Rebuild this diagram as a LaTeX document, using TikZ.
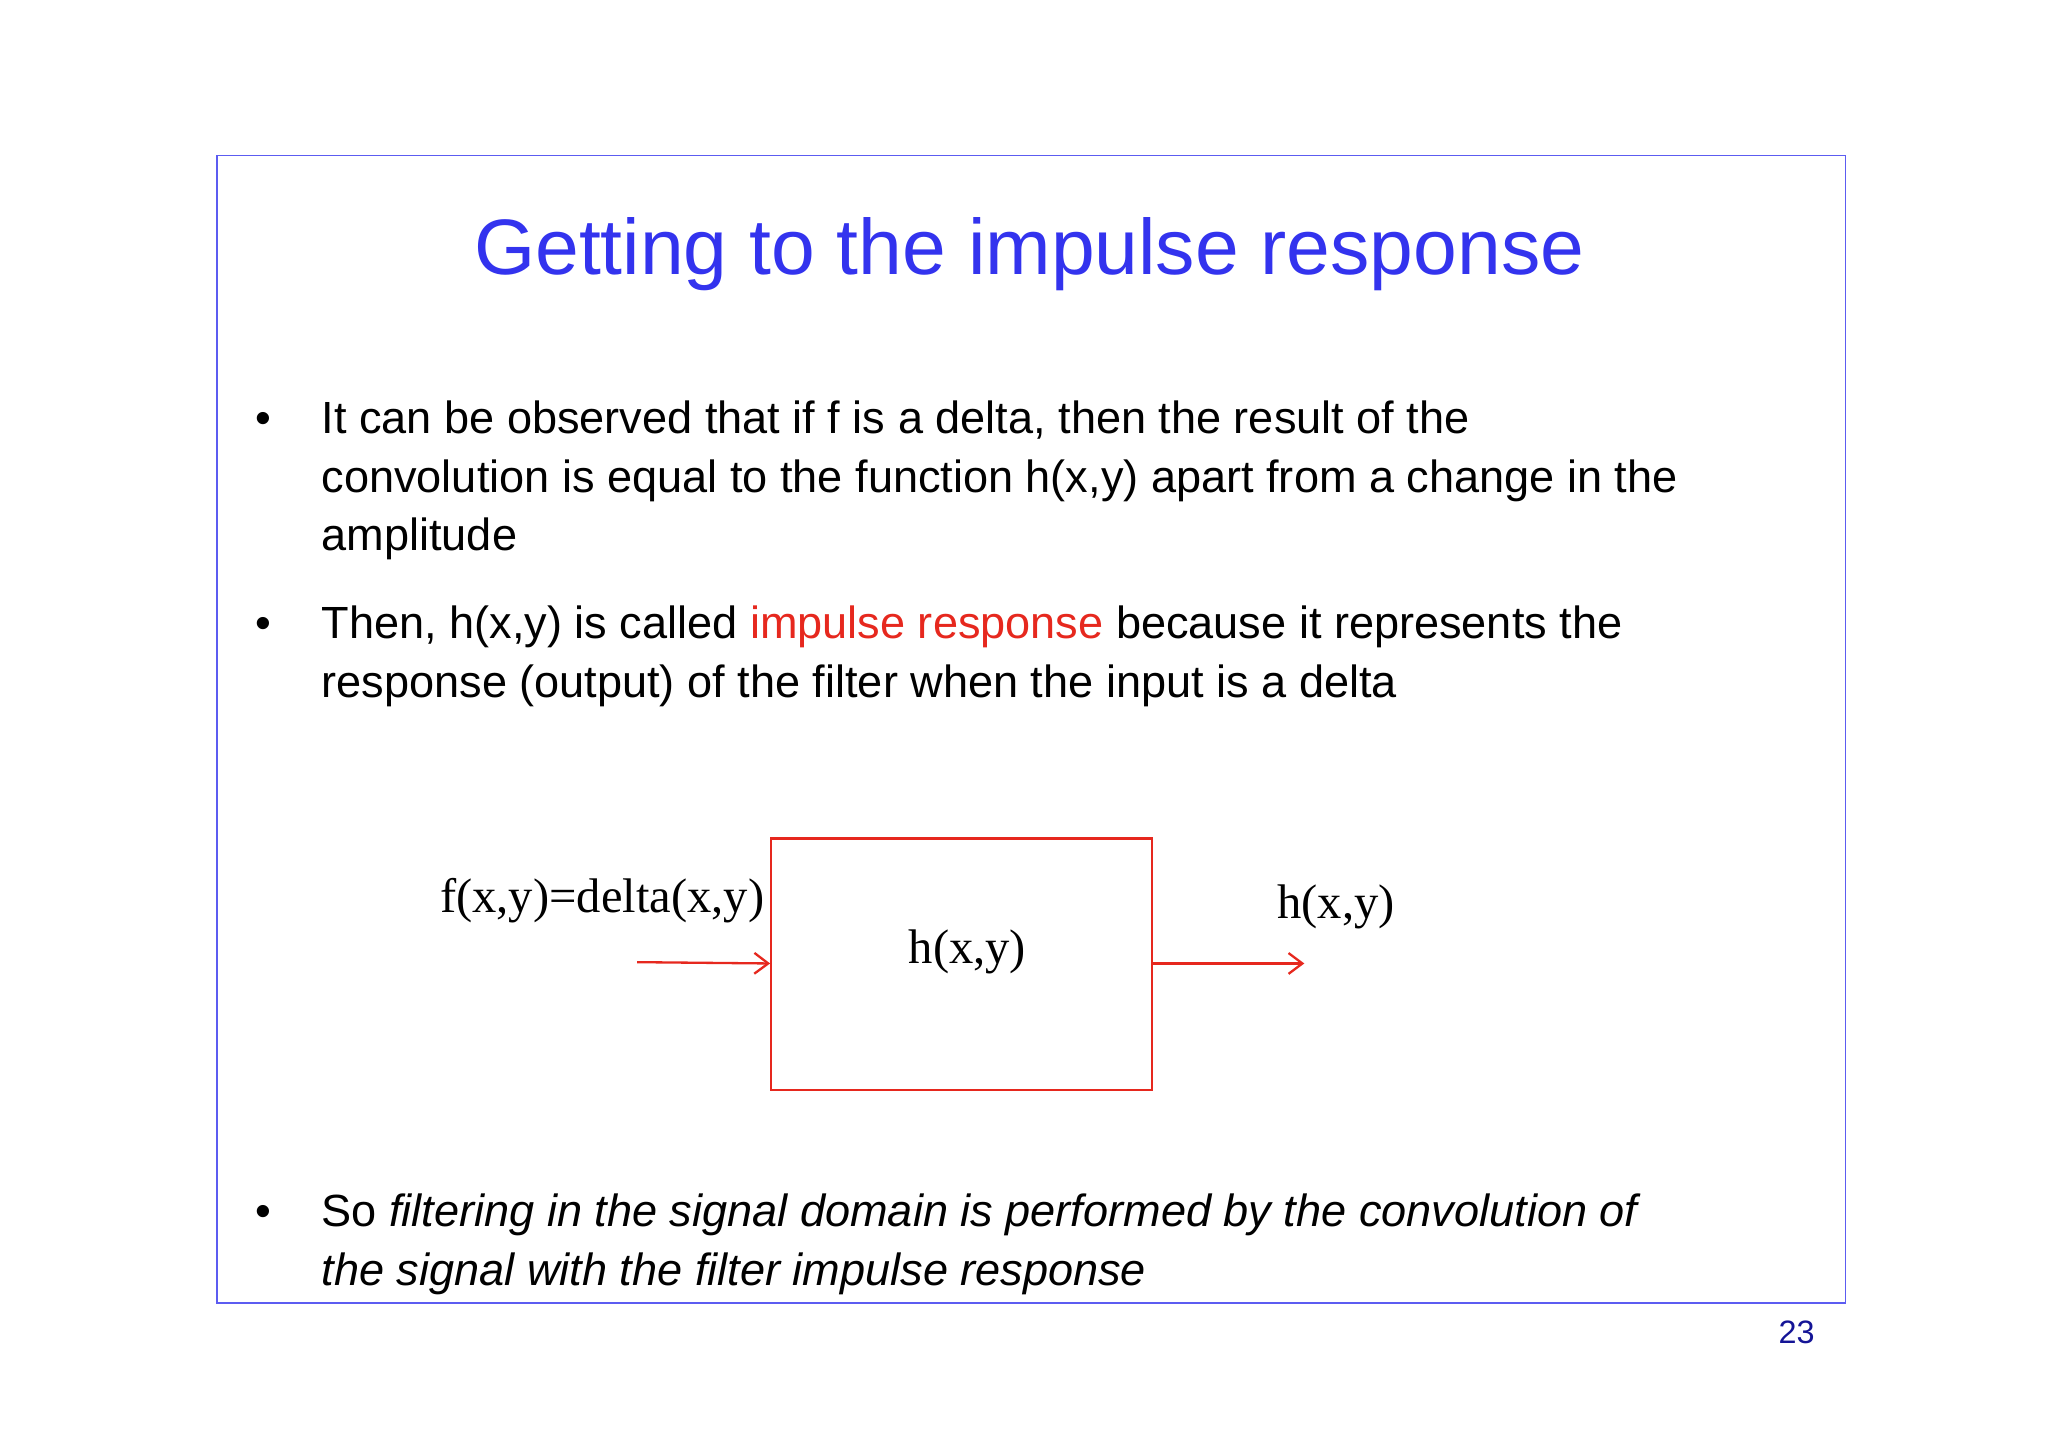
\documentclass[tikz,border=0pt]{standalone}
\usepackage{fontspec}
\setmainfont{Liberation Sans}
\newfontfamily\tnr{Liberation Serif}
\usetikzlibrary{arrows.meta}
\definecolor{ttl}{RGB}{51,51,238}
\definecolor{rd}{RGB}{230,40,30}
\definecolor{nb}{RGB}{20,20,150}
\begin{document}
\begin{tikzpicture}[x=0.02cm,y=-0.02cm,
  body/.style={anchor=base west,inner sep=0,font=\fontsize{19.5}{23}\selectfont},
  bul/.style={anchor=base,inner sep=0,font=\fontsize{19.5}{23}\selectfont},
  lbl/.style={inner sep=0,font=\tnr\fontsize{21}{25}\selectfont},
  arr/.style={rd,line width=1pt,-{Straight Barb[length=6pt,width=9pt]}}]
\useasboundingbox (0,0) rectangle (1556,1100);
\draw[ttl!80,line width=0.6pt] (165,118) rectangle (1402,990);
\node[inner sep=0,text=ttl,font=\fontsize{34}{40}\selectfont] (title) at (782,193) {Getting to the impulse response};
\node[bul] (b1) at (200,329) {•};
\node[body] (l1) at (244,329) {It can be observed that if f is a delta, then the result of the};
\node[body] (l2) at (244,374) {convolution is equal to the function h(x,y) apart from a change in the};
\node[body] (l3) at (244,418) {amplitude};
\node[bul] (b2) at (200,485) {•};
\node[body] (l4) at (244,485) {Then, h(x,y) is called \textcolor{rd}{impulse response} because it represents the};
\node[body] (l5) at (244,530) {response (output) of the filter when the input is a delta};
\node[bul] (b3) at (200,932) {•};
\node[body] (l6) at (244,932) {So \textit{filtering in the signal domain is performed by the convolution of}};
\node[body] (l7) at (244,977) {\textit{the signal with the filter impulse response}};
\node[draw=rd,line width=1pt,minimum width=289*0.02cm,minimum height=191*0.02cm,inner sep=0] (box) at (730.5,732.5) {};
\node[lbl] (hin) at (735,723) {h(x,y)};
\node[lbl,anchor=east] (fin) at (581,684) {f(x,y)=delta(x,y)};
\node[lbl] (hout) at (1015,689) {h(x,y)};
\coordinate (s) at (484,731);
\coordinate (e) at (991,732);
\draw[arr] (s) -- (box.west |- 0,732);
\draw[arr] (box.east |- 0,732) -- (e);
\node[inner sep=0,text=nb,font=\fontsize{14}{16}\selectfont] (pn) at (1365,1012) {23};
\end{tikzpicture}
\end{document}
